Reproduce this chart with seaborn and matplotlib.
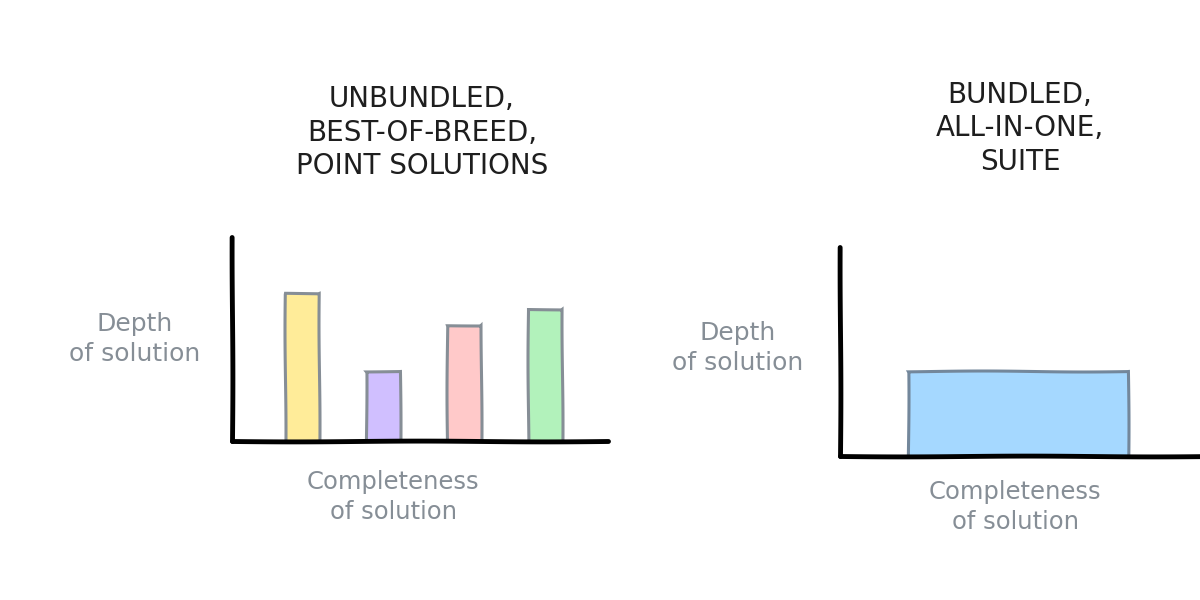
import matplotlib
matplotlib.use('Agg')
import matplotlib.pyplot as plt
import pandas as pd
import seaborn as sns

# Left chart: unbundled point solutions
left_tools = ['A', 'B', 'C', 'D']
left_depth = [148, 70, 116, 132]
left_colors = ['#ffec99', '#d0bfff', '#ffc9c9', '#b2f2bb']

# Right chart: one all-in-one suite
right_tools = ['Suite']
right_depth = [85]
right_colors = ['#a5d8ff']

left_title = 'UNBUNDLED,\nBEST-OF-BREED,\nPOINT SOLUTIONS'
right_title = 'BUNDLED,\nALL-IN-ONE,\nSUITE'
y_label = 'Depth\nof solution'
x_label = 'Completeness\nof solution'

GREY = '#868e96'


def sketch_panel(ax, df, palette, edge, width, xlim, ylim):
    sns.barplot(data=df, x='tool', y='depth', hue='tool', palette=palette,
                width=width, edgecolor=edge, linewidth=2.2, legend=False,
                saturation=1, ax=ax)
    for p in ax.patches:
        p.set_sketch_params(0.5, 200, 1.0)
    ax.set_xlim(*xlim)
    ax.set_ylim(*ylim)
    ax.set_xticks([])
    ax.set_yticks([])
    ax.set_xlabel('')
    ax.set_ylabel('')
    for side in ['top', 'right']:
        ax.spines[side].set_visible(False)
    for side in ['left', 'bottom']:
        ax.spines[side].set_color('black')
        ax.spines[side].set_linewidth(3.5)
        ax.spines[side].set_capstyle('round')
        ax.spines[side].set_sketch_params(0.4, 250, 1.0)


sns.set_style('white')
plt.rcParams['font.family'] = ['DejaVu Sans']

fig = plt.figure(figsize=(12, 6), dpi=100)
W, H = 1200, 600

# left panel: axis from x 232..608 px, y 237..441 px
ax1 = fig.add_axes([232 / W, (H - 441) / H, 376 / W, 204 / H])
df1 = pd.DataFrame({'tool': left_tools, 'depth': left_depth})
sketch_panel(ax1, df1, left_colors, '#868e96', 0.43,
             (-0.864, 3.778), (0, 204))

# right panel: axis from x 840..1200 px, y 247..456 px
ax2 = fig.add_axes([840 / W, (H - 456) / H, 360 / W, 209 / H])
df2 = pd.DataFrame({'tool': right_tools, 'depth': right_depth})
sketch_panel(ax2, df2, right_colors, '#73879b', 0.8,
             (-0.647, 0.662), (0, 209))

# titles
fig.text(422 / W, 1 - 133 / H, left_title, ha='center', va='center',
         fontsize=20, color='#1e1e1e', linespacing=1.25)
fig.text(1020 / W, 1 - 128 / H, right_title, ha='center', va='center',
         fontsize=20, color='#1e1e1e', linespacing=1.25)

# axis labels
fig.text(135 / W, 1 - 339 / H, y_label, ha='center', va='center',
         fontsize=18, color=GREY, linespacing=1.3)
fig.text(393 / W, 1 - 497 / H, x_label, ha='center', va='center',
         fontsize=17.5, color=GREY, linespacing=1.3)
fig.text(738 / W, 1 - 348 / H, y_label, ha='center', va='center',
         fontsize=18, color=GREY, linespacing=1.3)
fig.text(1015 / W, 1 - 507 / H, x_label, ha='center', va='center',
         fontsize=17.5, color=GREY, linespacing=1.3)

fig.savefig('out.png', dpi=100, facecolor='white')
